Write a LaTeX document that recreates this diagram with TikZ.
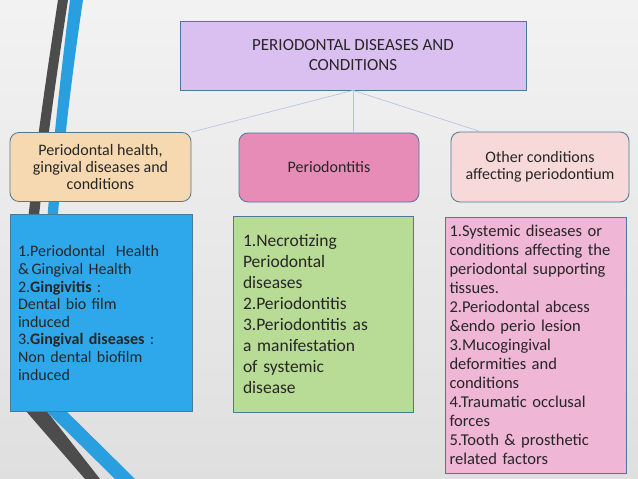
\documentclass[tikz,border=0pt]{standalone}
\usepackage{fontspec}
\setmainfont{Carlito}
\definecolor{cTop}{HTML}{DAC0F0}
\definecolor{cA}{HTML}{F6D9B0}
\definecolor{cB}{HTML}{E68CB7}
\definecolor{cC}{HTML}{F7D9D9}
\definecolor{cD}{HTML}{2EA8EA}
\definecolor{cE}{HTML}{B8DC96}
\definecolor{cF}{HTML}{F0B6D6}
\definecolor{cEdge}{HTML}{4A7A9A}
\definecolor{cStripe}{HTML}{2A9FE0}
\begin{document}
\begin{tikzpicture}[x=1pt,y=-1pt,
  bx/.style={draw=cEdge, line width=0.8pt, inner sep=4pt, align=center, font=\fontsize{16}{17}\selectfont, text=black!85},
  lst/.style={draw=cEdge, line width=0.8pt, align=left, text=black!85},
  con/.style={draw=cyan!40!blue!30, line width=0.6pt}]
\fill[top color=white!90!gray, bottom color=gray!25] (0,0) rectangle (638,479);
\useasboundingbox (0,0) rectangle (638,479);
% stripes
\fill[black!70] (58,0) -- (68,0) .. controls (45,150) and (20,330) .. (38,400) -- (100,479) -- (85,479) -- (25,410) .. controls (8,340) and (35,150) .. (58,0) -- cycle;
\fill[cStripe] (70,0) -- (83,0) .. controls (65,120) and (45,300) .. (55,400) -- (135,479) -- (115,479) -- (45,410) .. controls (35,300) and (55,120) .. (70,0) -- cycle;
% boxes
\node[draw=cEdge, line width=0.8pt, fill=cTop, minimum width=346pt, minimum height=69pt, align=center, text=black!85, font=\fontsize{17}{20}\selectfont] (top) at (353,55.5) {PERIODONTAL DISEASES AND\\CONDITIONS};
\node[bx, rounded corners=9pt, fill=cA, minimum width=181pt, minimum height=69pt] (a) at (100.5,167) {Periodontal health,\\gingival diseases and\\conditions};
\node[bx, rounded corners=9pt, fill=cB, minimum width=180pt, minimum height=69pt] (b) at (329,167.5) {Periodontitis};
\node[bx, rounded corners=9pt, fill=cC, minimum width=178pt, minimum height=70pt] (c) at (540,167) {Other conditions\\affecting periodontium};
\draw[con] (top.south) -- (a.north east);
\draw[con] (top.south) -- (b.north -| top.south);
\draw[con] (top.south) -- ([xshift=30pt]c.north west);
% lists
\node[lst, fill=cD, minimum width=182pt, minimum height=197pt, text width=166pt, inner sep=8pt, font=\fontsize{16}{17.6}\selectfont] (d) at (101,313) {1.Periodontal\ \ Health\\\&\,Gingival Health\\2.\textbf{Gingivitis} :\\Dental bio film\\induced\\3.\textbf{Gingival diseases} :\\Non dental biofilm\\induced};
\node[lst, fill=cE, minimum width=180pt, minimum height=196pt, text width=160pt, inner sep=10pt, font=\fontsize{17.5}{21}\selectfont] (e) at (323,314) {1.Necrotizing\\Periodontal\\diseases\\2.Periodontitis\\3.Periodontitis as\\a manifestation\\of systemic\\disease};
\node[lst, fill=cF, minimum width=181pt, minimum height=256pt, text width=172pt, inner sep=4.5pt, font=\fontsize{16.5}{19}\selectfont] (f) at (535.5,345) {1.Systemic diseases or\\conditions affecting the\\periodontal supporting\\tissues.\\2.Periodontal abcess\\\&endo perio lesion\\3.Mucogingival\\deformities and\\conditions\\4.Traumatic occlusal\\forces\\5.Tooth \& prosthetic\\related factors};
\end{tikzpicture}
\end{document}
